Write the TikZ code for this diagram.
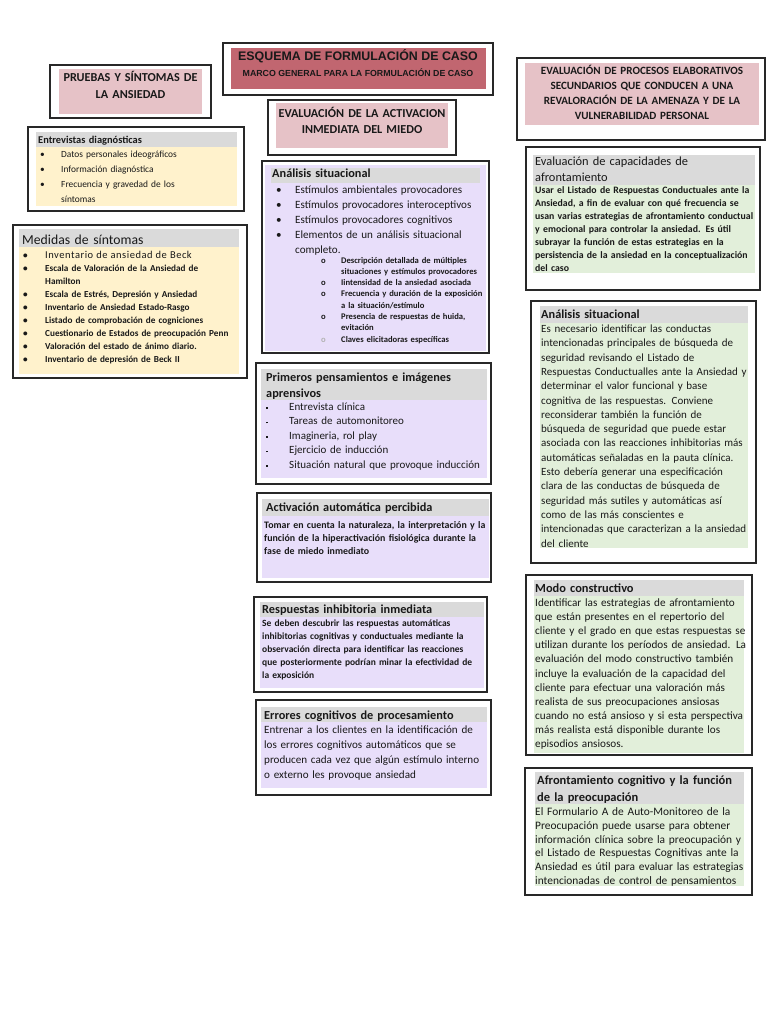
\documentclass[tikz,border=0pt]{standalone}
\usepackage{fontspec}
\setmainfont{Carlito}
\newfontfamily\arialf{Liberation Sans}
\newfontfamily\spacedf[LetterSpace=5]{Carlito}
\newcommand\setfs[2]{\fontsize{#1}{#2}\selectfont}
\newcommand\bul[1]{\leavevmode\llap{\makebox[#1][l]{\textbullet}}}
\newcommand\sdot[1]{\leavevmode\llap{\makebox[#1][l]{\rule[1.5pt]{1.6pt}{1.6pt}}}}
\newcommand\subo[1]{\leavevmode\llap{\makebox[#1][l]{o}}}
\newcommand\subog[1]{\leavevmode\llap{\makebox[#1][l]{\textcolor{gray!60}{o}}}}
\definecolor{titlepink}{RGB}{193,102,112}
\definecolor{lpink}{RGB}{230,194,199}
\definecolor{hgray}{RGB}{218,218,218}
\definecolor{lyellow}{RGB}{255,242,204}
\definecolor{lav}{RGB}{232,222,250}
\definecolor{lgreen}{RGB}{226,239,218}
\definecolor{bord}{RGB}{40,40,40}
\definecolor{ink}{RGB}{25,25,25}
\begin{document}
\begin{tikzpicture}[x=1pt,y=-1pt,
  frame/.style={draw=bord, line width=1.1pt},
  txt/.style={anchor=base west, inner sep=0pt, align=left, text=ink, text width=#1},
  ctxt/.style={anchor=base, inner sep=0pt, align=center, text=ink, text width=#1}]
\useasboundingbox (0,0) rectangle (768,1024);
\fill[white] (0,0) rectangle (768,1024);

% ---------- main title ----------
\draw[frame] (223,43) rectangle (493,95);
\fill[titlepink] (231,48) rectangle (486,89);
\node[anchor=base, inner sep=0pt, text=ink, font=\arialf\bfseries\setfs{12.4}{14}] (title) at (358,61) {ESQUEMA DE FORMULACIÓN DE CASO};
\node[anchor=base, inner sep=0pt, text=ink, font=\arialf\bfseries\setfs{8.8}{10}] (subtitle) at (358,76.5) {MARCO GENERAL PARA LA FORMULACIÓN DE CASO};

% ---------- left header ----------
\draw[frame] (50,65) rectangle (211,118);
\fill[lpink] (59,69) rectangle (202,114);
\node[ctxt=150, font=\bfseries\setfs{12.2}{17}] (lefthead) at (130.5,82) {PRUEBAS Y SÍNTOMAS DE\\LA ANSIEDAD};

% ---------- Entrevistas ----------
\draw[frame] (28,127) rectangle (244,211);
\fill[hgray] (36,132) rectangle (237,147);
\fill[lyellow] (36,147) rectangle (237,206);
\node[txt=200, font=\bfseries\setfs{10.4}{12}] (entt) at (38,144) {Entrevistas diagnósticas};
\node[txt=180, font=\setfs{9.4}{15}] (entb) at (61,158) {\bul{21pt}Datos personales ideográficos\\
\bul{21pt}Información diagnóstica\\
\bul{21pt}Frecuencia y gravedad de los\\
síntomas};

% ---------- Medidas ----------
\draw[frame] (13,225) rectangle (247,378);
\fill[hgray] (19,229) rectangle (239,247);
\fill[lyellow] (19,247) rectangle (239,374);
\node[txt=215, font=\setfs{13.7}{15}] (medt) at (22,244) {Medidas de síntomas};
\node[txt=200, font=\bfseries\setfs{9.2}{13}] (medb) at (45,258.5) {\bul{22pt}{\spacedf\mdseries\setfs{10.5}{13}Inventario de ansiedad de Beck}\\
\bul{22pt}Escala de Valoración de la Ansiedad de\\
Hamilton\\
\bul{22pt}Escala de Estrés, Depresión y Ansiedad\\
\bul{22pt}Inventario de Ansiedad Estado-Rasgo\\
\bul{22pt}Listado de comprobación de cogniciones\\
\bul{22pt}Cuestionario de Estados de preocupación Penn\\
\bul{22pt}Valoración del estado de ánimo diario.\\
\bul{22pt}Inventario de depresión de Beck II};

% ---------- middle header ----------
\draw[frame] (268,100) rectangle (456,155);
\fill[lpink] (276,103) rectangle (448,148);
\node[ctxt=172, font=\bfseries\setfs{12.2}{16}] (midhead) at (362,118) {EVALUACIÓN DE LA ACTIVACION\\INMEDIATA DEL MIEDO};

% ---------- Analisis situacional (middle) ----------
\draw[frame] (262,161) rectangle (489,353);
\fill[lav] (265,165) rectangle (486,351);
\fill[hgray] (271,168) rectangle (480,183);
\node[txt=200, font=\bfseries\setfs{12.3}{12}] (ast) at (272,178) {Análisis situacional};
\node[txt=190, font=\setfs{11.1}{15}] (asb) at (295,193.5) {\bul{19pt}Estímulos ambientales provocadores\\
\bul{19pt}Estímulos provocadores interoceptivos\\
\bul{19pt}Estímulos provocadores cognitivos\\
\bul{19pt}Elementos de un análisis situacional\\
completo.};
\node[txt=150, font=\bfseries\setfs{8.6}{11.3}] (ass) at (341,263) {\subo{20pt}Descripción detallada de múltiples\\
situaciones y estímulos provocadores\\
\subo{20pt}Iintensidad de la ansiedad asociada\\
\subo{20pt}Frecuencia y duración de la exposición\\
a la situación/estímulo\\
\subo{20pt}Presencia de respuestas de huida,\\
evitación\\
\subog{20pt}Claves elicitadoras específicas};

% ---------- Primeros pensamientos ----------
\draw[frame] (256,363) rectangle (491,484);
\fill[hgray] (261,369) rectangle (487,400);
\fill[lav] (261,400) rectangle (487,478);
\node[txt=225, font=\bfseries\setfs{12.3}{16}] (ppt) at (266,381.5) {Primeros pensamientos e imágenes\\aprensivos};
\node[txt=205, font=\setfs{11}{14.4}] (ppb) at (289,410.5) {\sdot{23pt}Entrevista clínica\\
\sdot{23pt}Tareas de automonitoreo\\
\sdot{23pt}Imagineria, rol play\\
\sdot{23pt}Ejercicio de inducción\\
\sdot{23pt}Situación natural que provoque inducción};

% ---------- Activacion automatica ----------
\draw[frame] (257,493) rectangle (491,582);
\fill[hgray] (262,499) rectangle (489,516);
\fill[lav] (262,516) rectangle (489,578);
\node[txt=225, font=\bfseries\setfs{12.3}{13}] (aat) at (266,511.5) {Activación automática percibida};
\node[txt=232, font=\bfseries\setfs{9.9}{13}] (aab) at (264,528) {Tomar en cuenta la naturaleza, la interpretación y la\\
función de la hiperactivación fisiológica durante la\\
fase de miedo inmediato};

% ---------- Respuestas inhibitoria ----------
\draw[frame] (254,597) rectangle (487,692);
\fill[hgray] (260,602) rectangle (484,617);
\fill[lav] (260,617) rectangle (484,688);
\node[txt=222, font=\bfseries\setfs{12.3}{13}] (rit) at (262,613.5) {Respuestas inhibitoria inmediata};
\node[txt=225, font=\bfseries\setfs{9.5}{13}] (rib) at (262,626.5) {Se deben descubrir las respuestas automáticas\\
inhibitorias cognitivas y conductuales mediante la\\
observación directa para identificar las reacciones\\
que posteriormente podrían minar la efectividad de\\
la exposición};

% ---------- Errores cognitivos ----------
\draw[frame] (256,700) rectangle (491,795);
\fill[hgray] (261,707) rectangle (487,722);
\fill[lav] (261,722) rectangle (487,788);
\node[txt=225, font=\bfseries\setfs{12.3}{13}] (ect) at (264,719.5) {Errores cognitivos de procesamiento};
\node[txt=225, font=\setfs{11.1}{15.3}] (ecb) at (264,733) {Entrenar a los clientes en la identificación de\\
los errores cognitivos automáticos que se\\
producen cada vez que algún estímulo interno\\
o externo les provoque ansiedad};

% ---------- right header ----------
\draw[frame] (517,58) rectangle (765,140);
\fill[lpink] (525,63) rectangle (759,125);
\node[ctxt=234, font=\bfseries\setfs{11.1}{15}] (righthead) at (642,75) {EVALUACIÓN DE PROCESOS ELABORATIVOS\\
SECUNDARIOS QUE CONDUCEN A UNA\\
REVALORACIÓN DE LA AMENAZA Y DE LA\\
VULNERABILIDAD PERSONAL};

% ---------- Evaluacion de capacidades ----------
\draw[frame] (526,147) rectangle (760,290);
\fill[hgray] (533,155) rectangle (755,185);
\fill[lgreen] (533,185) rectangle (755,273);
\node[txt=220, font=\setfs{12.4}{16}] (ect2) at (535,165.5) {Evaluación de capacidades de\\afrontamiento};
\node[txt=226, font=\bfseries\setfs{9.8}{13}] (ecb2) at (535,193.5) {Usar el Listado de Respuestas Conductuales ante la\\
Ansiedad, a fin de evaluar con qué frecuencia se\\
usan varias estrategias de afrontamiento conductual\\
y emocional para controlar la ansiedad. Es útil\\
subrayar la función de estas estrategias en la\\
persistencia de la ansiedad en la conceptualización\\
del caso};

% ---------- Analisis situacional (right) ----------
\draw[frame] (531,301) rectangle (756,563);
\fill[hgray] (540,306) rectangle (748,323);
\fill[lgreen] (540,323) rectangle (748,548);
\node[txt=205, font=\bfseries\setfs{12.3}{12}] (asrt) at (541,318) {Análisis situacional};
\node[txt=212, font=\setfs{11}{14.3}] (asrb) at (541,332.5) {Es necesario identificar las conductas\\
intencionadas principales de búsqueda de\\
seguridad revisando el Listado de\\
Respuestas Conductualles ante la Ansiedad y\\
determinar el valor funcional y base\\
cognitiva de las respuestas. Conviene\\
reconsiderar también la función de\\
búsqueda de seguridad que puede estar\\
asociada con las reacciones inhibitorias más\\
automáticas señaladas en la pauta clínica.\\
Esto debería generar una especificación\\
clara de las conductas de búsqueda de\\
seguridad más sutiles y automáticas así\\
como de las más conscientes e\\
intencionadas que caracterizan a la ansiedad\\
del cliente};

% ---------- Modo constructivo ----------
\draw[frame] (526,575) rectangle (752,755);
\fill[hgray] (534,580) rectangle (744,596);
\fill[lgreen] (534,596) rectangle (744,753);
\node[txt=210, font=\bfseries\setfs{12.4}{13}] (mct) at (535,592.5) {Modo constructivo};
\node[txt=215, font=\setfs{11.2}{14.1}] (mcb) at (535,606.5) {Identificar las estrategias de afrontamiento\\
que están presentes en el repertorio del\\
cliente y el grado en que estas respuestas se\\
utilizan durante los períodos de ansiedad. La\\
evaluación del modo constructivo también\\
incluye la evaluación de la capacidad del\\
cliente para efectuar una valoración más\\
realista de sus preocupaciones ansiosas\\
cuando no está ansioso y si esta perspectiva\\
más realista está disponible durante los\\
episodios ansiosos.};

% ---------- Afrontamiento cognitivo ----------
\draw[frame] (525,768) rectangle (752,895);
\fill[hgray] (535,772) rectangle (744,804);
\fill[lgreen] (535,804) rectangle (744,886);
\node[txt=210, font=\bfseries\setfs{12.5}{16.5}] (aft) at (537,784.5) {Afrontamiento cognitivo y la función\\de la preocupación};
\node[txt=215, font=\setfs{11.4}{13.8}] (afb) at (535,815.5) {El Formulario A de Auto-Monitoreo de la\\
Preocupación puede usarse para obtener\\
información clínica sobre la preocupación y\\
el Listado de Respuestas Cognitivas ante la\\
Ansiedad es útil para evaluar las estrategias\\
intencionadas de control de pensamientos};
\end{tikzpicture}
\end{document}
